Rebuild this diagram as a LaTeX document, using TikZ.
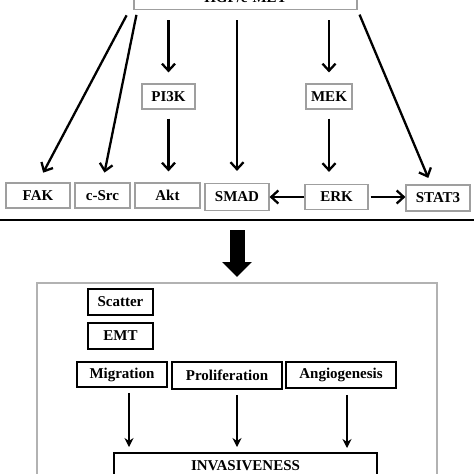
\documentclass[tikz,border=0pt]{standalone}
\usepackage{fontspec}
\setmainfont{Liberation Serif}
\usetikzlibrary{arrows.meta}

\begin{document}
\begin{tikzpicture}[x=1pt,y=1pt,
  sig/.style={draw=gray!75,line width=1.2pt,inner sep=0pt,minimum height=25pt,font=\fontsize{15}{18}\selectfont\bfseries},
  eff/.style={draw=black,line width=1.6pt,inner sep=0pt,minimum height=26pt,font=\fontsize{15}{18}\selectfont\bfseries},
  flow/.style={line width=2.3pt,-{Straight Barb[length=7pt,width=13pt]}},
  thinflow/.style={line width=1.2pt,-{Stealth[length=9pt,width=9pt,inset=3pt]}}]
\useasboundingbox (0,0) rectangle (474,-474);
% receptor
\node[sig,minimum height=0pt,inner ysep=7pt,minimum width=223pt,anchor=south] (hgf) at (245.5,-10) {HGF/c-MET};
\node[sig,minimum width=53pt] (pi3k) at (168.5,-96.5) {PI3K};
\node[sig,minimum width=46pt] (mek) at (329,-96.5) {MEK};
% effectors
\node[sig,minimum width=64pt] (fak) at (38,-195.5) {FAK};
\node[sig,minimum width=55pt] (csrc) at (102.5,-195.5) {c-Src};
\node[sig,minimum width=65pt] (akt) at (167.5,-195.5) {Akt};
\node[sig,minimum width=64pt,minimum height=27pt] (smad) at (237,-197) {SMAD};
\node[sig,minimum width=63pt] (erk) at (336.5,-197) {ERK};
\node[sig,minimum width=64pt,minimum height=26pt] (stat3) at (438,-198) {STAT3};
\draw[flow,shorten <=6pt,shorten >=11pt] ([xshift=-4pt]hgf.south west) -- (fak.north);
\draw[flow,shorten <=5pt,shorten >=10pt] ([xshift=4pt]hgf.south west) -- (csrc.north);
\draw[flow,shorten <=10pt,shorten >=11pt] (hgf.south -| pi3k) -- (pi3k.north);
\draw[flow,shorten <=9pt,shorten >=11pt] (pi3k.south) -- (pi3k.south |- akt.north);
\draw[flow,shorten <=10pt,shorten >=12pt] (hgf.south -| smad) -- (smad.north);
\draw[flow,shorten <=10pt,shorten >=11pt] (hgf.south -| mek) -- (mek.north);
\draw[flow,shorten <=9pt,shorten >=12pt] (mek.south) -- (mek.south |- erk.north);
\draw[flow,shorten <=5pt,shorten >=7pt] (hgf.south east) -- ([xshift=-7pt]stat3.north);
\draw[flow] (erk.west) -- (erk.west -| smad.east);
\draw[flow,shorten <=2pt] (erk.east) -- (erk.east -| stat3.west);
\draw[line width=2.5pt] (0,-220) -- (474,-220);
% outcome
\node[draw=gray!60,line width=1.5pt,minimum width=400pt,minimum height=220pt,anchor=north] (effects) at (237,-282) {};
\coordinate (gap) at (237,-230);
\draw[line width=15pt,-{Triangle[width=29pt,length=15pt]},shorten >=5pt] (gap) -- (effects.north);
\node[eff,minimum width=65pt] (scatter) at (120.5,-302) {Scatter};
\node[eff,minimum width=65pt] (emt) at (120.5,-336) {EMT};
\node[eff,minimum width=90pt,minimum height=25pt] (mig) at (122,-374.5) {Migration};
\node[eff,minimum width=110pt,minimum height=27pt] (prol) at (227,-375.5) {Proliferation};
\node[eff,minimum width=110pt] (angio) at (341,-375) {Angiogenesis};
\node[eff,minimum height=0pt,inner ysep=8pt,minimum width=263pt,anchor=north] (inv) at (245.5,-452) {INVASIVENESS};
\draw[thinflow,shorten <=5pt,shorten >=5pt] ([xshift=7pt]mig.south) -- ([xshift=7pt]mig.south |- inv.north);
\draw[thinflow,shorten <=5pt,shorten >=5pt] ([xshift=10pt]prol.south) -- ([xshift=10pt]prol.south |- inv.north);
\draw[thinflow,shorten <=6pt,shorten >=4pt] ([xshift=6pt]angio.south) -- ([xshift=6pt]angio.south |- inv.north);
\end{tikzpicture}
\end{document}
